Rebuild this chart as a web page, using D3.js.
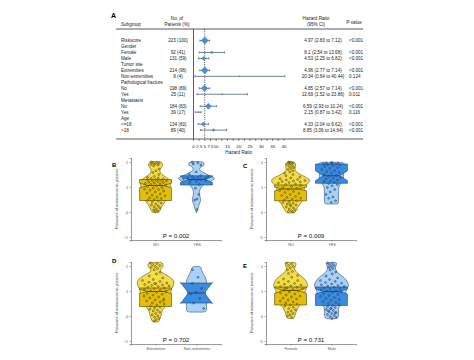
<!DOCTYPE html>
<html><head><meta charset="utf-8">
<script src="https://cdn.jsdelivr.net/npm/d3@7"></script>
<style>body{margin:0;background:#fff;} svg{display:block;font-family:"Liberation Sans",Arial,sans-serif;}</style>
</head><body><svg id="c" width="474" height="360"></svg>
<script>
// ---------- Panel A: forest plot data ----------
const rowLabels = ["Riskscore","Gender","Female","Male","Tumor site","Extremities","Non-extremities","Pathological fracture","No","Yes","Metastasis","No","Yes","Age","<=18",">18"];
const dataRows = [0,2,3,5,6,8,9,11,12,14,15];
const nPatients = [223,92,131,214,9,198,25,184,39,134,89];
const pctPatients = [100,41,59,96,4,89,11,83,17,60,40];
const hrValues = [4.97,8.1,4.53,4.96,20.34,4.85,12.69,6.59,2.15,4.33,8.85];
const ciLow = [2.83,2.54,2.25,2.77,0.64,2.57,1.52,2.93,0.87,2.04,3.06];
const ciHigh = [7.12,13.68,6.82,7.14,40.44,7.14,23.86,10.24,3.42,6.62,14.64];
const pValues = ["<0.001","<0.001","<0.001","<0.001","0.124","<0.001","0.011","<0.001","0.116","<0.001","<0.001"];
const hrTickLabels = [0,2.5,5,7.5,10,15,20,25,30,35,40];

// ---------- Panels B-E data ----------
const panelLetters = ["B","C","D","E"];
const groupNames = [["NO","YES"],["NO","YES"],["Extremities","Non-extremities"],["Female","Male"]];
const groupN = [[198,25],[184,39],[214,9],[92,131]];
const pTexts = ["P = 0.002","P = 0.009","P = 0.702","P = 0.731"];
const yTickValues = [-1,0,1,2];
const boxQ1 = [[0.46,1.08],[0.45,1.15],[0.38,0.52],[0.44,0.42]];
const boxMedian = [[1.06,1.30],[0.92,1.45],[0.98,0.92],[1.02,0.98]];
const boxQ3 = [[1.30,1.45],[1.08,1.92],[1.12,1.32],[1.16,1.16]];
// violin density profiles: [riskscore, relative density]
const violinB_NO = [[2.02,0],[2.0,.3],[1.88,.4],[1.76,.3],[1.64,.24],[1.52,.33],[1.4,.56],[1.28,.78],[1.12,.83],[0.88,.78],[0.64,.72],[0.44,.56],[0.28,.39],[0.12,.28],[0.0,.19],[-0.04,0]];
const violinB_YES = [[2.02,0],[1.98,.39],[1.88,.42],[1.78,.22],[1.68,.19],[1.56,.44],[1.44,.78],[1.34,1],[1.24,.83],[1.12,.44],[1.0,.28],[0.84,.17],[0.68,.17],[0.56,.22],[0.44,.22],[0.28,.14],[0.12,.08],[-0.04,0]];
const violinC_NO = [[2.02,0],[1.98,.22],[1.88,.28],[1.76,.25],[1.64,.28],[1.52,.5],[1.4,.83],[1.28,1.05],[1.16,1],[1.04,.78],[0.8,.78],[0.56,.78],[0.4,.61],[0.24,.44],[0.08,.33],[-0.02,.22],[-0.04,0]];
const violinC_YES = [[1.98,0],[1.96,.67],[1.84,.72],[1.68,.72],[1.52,.67],[1.36,.67],[1.24,.61],[1.12,.5],[1.0,.42],[0.8,.39],[0.6,.39],[0.44,.39],[0.34,.36],[0.32,0]];
const violinD_EXT = [[2.14,0],[2.12,.36],[2.0,.42],[1.88,.3],[1.8,.26],[1.68,.5],[1.56,.78],[1.4,1],[1.24,1],[1.08,.89],[0.84,.83],[0.6,.78],[0.4,.56],[0.24,.39],[0.08,.33],[-0.08,.25],[-0.22,.17],[-0.24,0]];
const violinD_NON = [[1.98,0],[1.96,.22],[1.84,.28],[1.68,.39],[1.52,.5],[1.36,.56],[1.12,.5],[0.88,.5],[0.64,.56],[0.44,.56],[0.28,.56],[0.18,.5],[0.16,0]];
const violinE_F = [[2.14,0],[2.12,.28],[2.0,.28],[1.92,.22],[1.8,.28],[1.68,.44],[1.52,.72],[1.36,.89],[1.2,.94],[1.04,.83],[0.8,.78],[0.56,.72],[0.36,.44],[0.2,.33],[0.04,.25],[-0.08,.19],[-0.1,0]];
const violinE_M = [[2.14,0],[2.12,.28],[2.0,.25],[1.92,.22],[1.8,.28],[1.68,.44],[1.52,.72],[1.36,.89],[1.2,.94],[1.04,.83],[0.8,.78],[0.56,.72],[0.36,.42],[0.2,.39],[0.04,.39],[-0.08,.33],[-0.12,0]];
// riskscore points (representative)
const ptsB_NO = [2.0,1.98,1.96,1.95,1.93,1.9,1.88,1.85,1.72,1.65,1.58,1.5,1.42,1.38,1.36,1.34,1.32,1.3,1.29,1.27,1.25,1.24,1.22,1.2,1.18,1.16,1.14,1.12,1.1,1.08,1.05,1.02,0.98,0.95,0.92,0.9,0.87,0.84,0.8,0.76,0.72,0.68,0.65,0.6,0.57,0.54,0.5,0.47,0.44,0.4,0.36,0.32,0.28,0.24,0.2,0.16,0.12,0.08,0.04,0.02];
const ptsB_YES = [1.99,1.97,1.92,1.88,1.6,1.5,1.46,1.42,1.4,1.38,1.36,1.34,1.33,1.32,1.3,1.28,1.26,1.22,1.18,1.1,0.95,0.7,0.52,0.48,0.1];
const ptsC_NO = [2.0,1.98,1.97,1.95,1.93,1.9,1.86,1.82,1.78,1.74,1.7,1.65,1.6,1.55,1.5,1.45,1.4,1.36,1.33,1.3,1.28,1.26,1.24,1.22,1.2,1.18,1.15,1.12,1.1,1.06,1.02,0.98,0.95,0.9,0.86,0.82,0.78,0.74,0.7,0.66,0.62,0.58,0.55,0.52,0.48,0.45,0.42,0.38,0.35,0.32,0.28,0.24,0.2,0.16,0.12,0.08,0.05,0.02,0.0,0.3];
const ptsC_YES = [1.98,1.97,1.96,1.95,1.94,1.93,1.92,1.9,1.88,1.85,1.82,1.78,1.74,1.7,1.66,1.62,1.58,1.55,1.5,1.46,1.42,1.38,1.35,1.32,1.28,1.25,1.22,1.18,1.14,1.1,1.05,0.98,0.9,0.8,0.7,0.6,0.55,0.45,0.38];
const ptsD_EXT = [2.12,2.1,2.06,2.02,1.98,1.95,1.9,1.85,1.75,1.68,1.6,1.52,1.46,1.42,1.38,1.35,1.32,1.29,1.26,1.24,1.22,1.2,1.18,1.15,1.12,1.1,1.07,1.04,1.0,0.97,0.94,0.9,0.87,0.84,0.8,0.76,0.72,0.68,0.64,0.6,0.56,0.52,0.48,0.44,0.4,0.36,0.32,0.28,0.24,0.2,0.15,0.1,0.05,0.0,-0.05,-0.1,-0.15,-0.2,0.62,1.3];
const ptsD_NON = [1.85,1.55,1.3,1.1,0.95,0.88,0.7,0.52,0.3];
const ptsE_F = [2.12,2.08,2.02,1.98,1.92,1.85,1.78,1.7,1.62,1.55,1.48,1.42,1.38,1.34,1.3,1.27,1.24,1.21,1.18,1.15,1.12,1.09,1.06,1.03,1.0,0.96,0.92,0.88,0.84,0.8,0.76,0.72,0.68,0.64,0.6,0.56,0.52,0.48,0.44,0.4,0.35,0.3,0.25,0.2,0.15,0.1,0.05,0.0,-0.05,1.1];
const ptsE_M = [2.12,2.1,2.06,2.02,1.98,1.94,1.9,1.84,1.76,1.68,1.6,1.52,1.46,1.42,1.38,1.34,1.31,1.28,1.25,1.22,1.2,1.18,1.15,1.12,1.1,1.08,1.05,1.02,1.0,0.97,0.94,0.9,0.86,0.82,0.78,0.74,0.7,0.66,0.62,0.58,0.54,0.5,0.46,0.42,0.38,0.34,0.3,0.26,0.22,0.18,0.14,0.1,0.06,0.02,-0.02,-0.06,-0.1,0.2,0.12,0.3];

const violins = [[violinB_NO,violinB_YES],[violinC_NO,violinC_YES],[violinD_EXT,violinD_NON],[violinE_F,violinE_M]];
const points = [[ptsB_NO,ptsB_YES],[ptsC_NO,ptsC_YES],[ptsD_EXT,ptsD_NON],[ptsE_F,ptsE_M]];

const svg = d3.select("#c");
const FONT = 4.6;

// ================= Panel A =================
const gA = svg.append("g");
gA.append("text").attr("x",111).attr("y",17.5).attr("font-size",7).attr("font-weight","bold").text("A");
const xHR = d3.scaleLinear().domain([0,40]).range([193.5,284]);
const yRow = d3.scalePoint().domain(d3.range(rowLabels.length)).range([40.5,130.1]);
const tableLeft = 116, tableRight = 363, headLineY = 29, axisY = 139;

const hdr = gA.append("g").attr("font-size",FONT).attr("fill","#222");
hdr.append("text").attr("x",121).attr("y",24.5).attr("dominant-baseline","central").text("Subgroup");
hdr.append("text").attr("x",177).attr("y",18).attr("text-anchor","middle").attr("dominant-baseline","central").text("No. of");
hdr.append("text").attr("x",177).attr("y",24.5).attr("text-anchor","middle").attr("dominant-baseline","central").text("Patients (%)");
hdr.append("text").attr("x",316).attr("y",18).attr("text-anchor","middle").attr("dominant-baseline","central").text("Hazard Ratio");
hdr.append("text").attr("x",316).attr("y",24.5).attr("text-anchor","middle").attr("dominant-baseline","central").text("(95% CI)");
hdr.append("text").attr("x",354).attr("y",22).attr("text-anchor","middle").attr("dominant-baseline","central").text("P-value");

gA.append("line").attr("x1",tableLeft).attr("x2",tableRight).attr("y1",headLineY).attr("y2",headLineY).attr("stroke","#333").attr("stroke-width",0.8);
gA.append("line").attr("x1",tableLeft).attr("x2",tableRight).attr("y1",axisY).attr("y2",axisY).attr("stroke","#333").attr("stroke-width",0.8);
gA.append("line").attr("x1",xHR(0)).attr("x2",xHR(0)).attr("y1",headLineY).attr("y2",axisY).attr("stroke","#333").attr("stroke-width",0.8);
gA.append("line").attr("x1",xHR(hrValues[0])).attr("x2",xHR(hrValues[0])).attr("y1",headLineY).attr("y2",axisY).attr("stroke","#111").attr("stroke-width",0.75).attr("stroke-dasharray","1,1.2");

gA.append("g").attr("font-size",FONT).attr("fill","#222").selectAll("text").data(rowLabels).join("text")
  .attr("x",121).attr("y",(d,i)=>yRow(i)).attr("dominant-baseline","central").text(d=>d);

const sizeScale = d3.scaleLinear().domain([0,223]).range([0,3.7]);
dataRows.forEach((ri,k)=>{
  const y = yRow(ri);
  gA.append("text").attr("x",178).attr("y",y).attr("text-anchor","middle").attr("dominant-baseline","central")
    .attr("font-size",FONT).attr("fill","#222").text(`${nPatients[k]} (${pctPatients[k]})`);
  gA.append("text").attr("x",323).attr("y",y).attr("text-anchor","middle").attr("dominant-baseline","central")
    .attr("font-size",FONT).attr("fill","#222").text(`${hrValues[k]} (${ciLow[k]} to ${ciHigh[k]})`);
  gA.append("text").attr("x",349).attr("y",y).attr("dominant-baseline","central")
    .attr("font-size",FONT).attr("fill","#222").text(pValues[k]);
  const x0 = xHR(ciLow[k]), x1 = xHR(ciHigh[k]), xm = xHR(hrValues[k]);
  gA.append("line").attr("x1",x0).attr("x2",x1).attr("y1",y).attr("y2",y).attr("stroke","#34496b").attr("stroke-width",0.7);
  [x0,x1].forEach(xx=>gA.append("line").attr("x1",xx).attr("x2",xx).attr("y1",y-1.1).attr("y2",y+1.1).attr("stroke","#34496b").attr("stroke-width",0.6));
  const r = Math.max(0.8, sizeScale(nPatients[k]));
  gA.append("path").attr("d",`M${xm},${y-r}L${xm+r},${y}L${xm},${y+r}L${xm-r},${y}Z`).attr("fill","#428ee0").attr("stroke","#2f78c8").attr("stroke-width",0.3);
});
const tickG = gA.append("g");
tickG.selectAll("line").data(d3.range(0,40.01,2.5)).join("line")
  .attr("x1",d=>xHR(d)).attr("x2",d=>xHR(d)).attr("y1",axisY).attr("y2",axisY+2).attr("stroke","#333").attr("stroke-width",0.6);
tickG.selectAll("text").data(hrTickLabels).join("text")
  .attr("x",d=>xHR(d)).attr("y",147.5).attr("text-anchor","middle").attr("font-size",4.4).attr("fill","#222").text(d=>d);
gA.append("text").attr("x",(xHR(0)+xHR(40))/2).attr("y",154).attr("text-anchor","middle").attr("font-size",4.6).attr("fill","#222").text("Hazard Ratio");

// ================= Panels B-E =================
const panelX = [[131,221],[266,356],[131,221],[266,356]];
const panelY = [[240,158],[240,158],[344,262],[344,262]];
const letterPos = [[112,167],[243,168],[112,263],[243,268]];
const fills = [{v:"#f3dc4a",b:"#e4bf08",s:"#3e3708",p:"#3a3206"},{v:"#a8d1f5",b:"#3b8ce0",s:"#1a355c",p:"#16325c"}];

function densityAt(profile, v){
  for(let i=0;i<profile.length-1;i++){
    const a=profile[i], b=profile[i+1];
    if(v<=a[0] && v>=b[0]){ const t=(a[0]-v)/((a[0]-b[0])||1); return a[1]+(b[1]-a[1])*t; }
  }
  return 0.1;
}

panelLetters.forEach((L,pi)=>{
  const g = svg.append("g");
  const x = d3.scalePoint().domain(groupNames[pi]).range(panelX[pi]).padding(0.6);
  const y = d3.scaleLinear().domain([-1.12,2.16]).range(panelY[pi]);
  const step = x.step();
  const vw = step*0.44, bw = step*0.78;

  const ax = g.append("g").attr("transform",`translate(${panelX[pi][0]},0)`)
    .call(d3.axisLeft(y).tickValues(yTickValues).tickSize(1.5).tickPadding(1.5).tickFormat(d3.format("d")));
  const bx = g.append("g").attr("transform",`translate(0,${panelY[pi][0]})`)
    .call(d3.axisBottom(x).tickSize(1.5).tickPadding(1.5));
  [ax,bx].forEach(a=>{
    a.select(".domain").attr("stroke","#555").attr("stroke-width",0.6);
    a.selectAll(".tick line").attr("stroke","#555").attr("stroke-width",0.5);
    a.selectAll("text").attr("font-size",3.8).attr("fill","#555").attr("font-family","Liberation Sans, Arial, sans-serif");
  });
  const cy = (panelY[pi][0]+panelY[pi][1])/2;
  g.append("text").attr("transform",`translate(${panelX[pi][0]-13},${cy}) rotate(-90)`)
    .attr("text-anchor","middle").attr("font-size",3.8).attr("fill","#444").text("Riskscore of osteosarcoma patients");
  g.append("text").attr("x",letterPos[pi][0]).attr("y",letterPos[pi][1]).attr("font-size",6).attr("font-weight","bold").text(L);

  groupNames[pi].forEach((gn,gi)=>{
    const cx = x(gn), col = fills[gi];
    const prof = violins[pi][gi];
    const area = d3.area().curve(d3.curveCatmullRom)
      .y(d=>y(d[0])).x0(d=>cx-d[1]*vw).x1(d=>cx+d[1]*vw);
    g.append("path").attr("d",area(prof)).attr("fill",col.v).attr("stroke",col.s).attr("stroke-width",0.5);

    const q1=boxQ1[pi][gi], md=boxMedian[pi][gi], q3=boxQ3[pi][gi], n=groupN[pi][gi];
    const notch = 1.58*(q3-q1)/Math.sqrt(n);
    const xmin=cx-bw/2, xmax=cx+bw/2, ind=bw/4;
    const pts = [[xmin,y(q3)],[xmin,y(md+notch)],[xmin+ind,y(md)],[xmin,y(md-notch)],[xmin,y(q1)],
                 [xmax,y(q1)],[xmax,y(md-notch)],[xmax-ind,y(md)],[xmax,y(md+notch)],[xmax,y(q3)]];
    g.append("path").attr("d","M"+pts.map(p=>p.join(",")).join("L")+"Z")
      .attr("fill",col.b).attr("stroke",col.s).attr("stroke-width",0.55).attr("stroke-linejoin","round");
    g.append("line").attr("x1",xmin+ind).attr("x2",xmax-ind).attr("y1",y(md)).attr("y2",y(md)).attr("stroke",col.s).attr("stroke-width",0.8);

    g.append("g").selectAll("circle").data(points[pi][gi]).join("circle")
      .attr("cx",(v,i)=>{ const f=((i*0.6180339887)%1)-0.5; return cx + f*2*densityAt(prof,v)*vw*0.8; })
      .attr("cy",v=>y(v)).attr("r",0.95)
      .attr("fill",col.b).attr("fill-opacity",0.5).attr("stroke",col.p).attr("stroke-width",0.5);
  });
  const mid = (x(groupNames[pi][0])+x(groupNames[pi][1]))/2;
  g.append("text").attr("x",mid).attr("y",y(-0.95)).attr("text-anchor","middle").attr("dominant-baseline","central")
    .attr("font-size",6.2).attr("fill","#111").text(pTexts[pi]);
});
</script>
</body></html>
